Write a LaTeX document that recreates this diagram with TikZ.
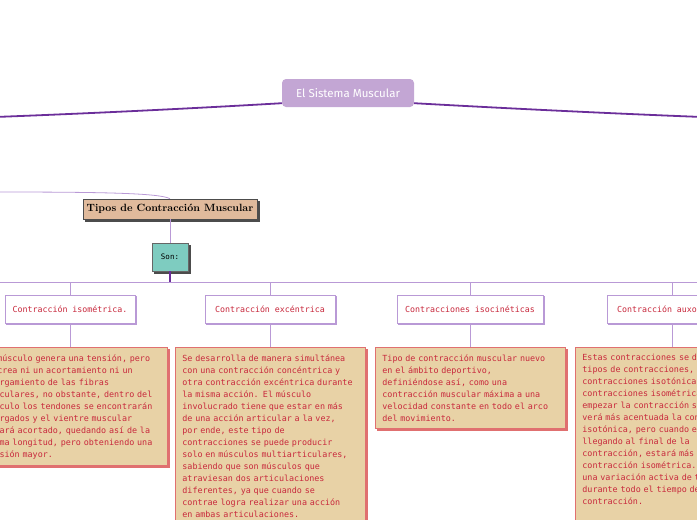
\documentclass[tikz,border=0pt]{standalone}
\usepackage{fontspec}
\setmainfont{Latin Modern Roman}
\newfontfamily\monof{DejaVu Sans Mono}
\newfontfamily\titf{Fira Sans}
\usetikzlibrary{shadows}
\definecolor{lilac}{HTML}{C3A6D4}
\definecolor{conn}{HTML}{6B2E9A}
\definecolor{linec}{HTML}{B999D6}
\definecolor{tan}{HTML}{E0BA9C}
\definecolor{teal}{HTML}{7ECCC0}
\definecolor{sand}{HTML}{E8D2A6}
\definecolor{redt}{HTML}{C8283C}
\definecolor{redb}{HTML}{E07070}
\tikzset{
  sub/.style={draw=linec,fill=white,line width=0.8pt,minimum height=28pt,font=\monof\fontsize{8.3}{10}\selectfont,text=redt,copy shadow={shadow xshift=1.5pt,shadow yshift=-1.5pt,draw=linec,fill=linec}},
  content/.style={draw=redb,fill=sand,line width=0.8pt,anchor=north west,align=left,inner sep=7pt,font=\monof\fontsize{8.4}{12}\selectfont,text=redt,copy shadow={shadow xshift=2pt,shadow yshift=-2pt,draw=redb,fill=redb}},
  link/.style={draw=linec,line width=0.8pt}
}
\begin{document}
\begin{tikzpicture}[x=1pt,y=-1pt]
\useasboundingbox (0,0) rectangle (697,520);
\node[fill=lilac,rounded corners=4pt,minimum width=132pt,minimum height=28pt,text=white,font=\titf\fontsize{11.5}{13}\selectfont] (title) at (348,93) {El Sistema Muscular};
\coordinate (L) at (-5,117);
\coordinate (R) at (702,117);
\draw[conn,line width=1.8pt] (title.south west)+(0,-4) .. controls (200,108) and (100,113) .. (L);
\draw[conn,line width=1.8pt] (title.south east)+(0,-4) .. controls (500,108) and (600,113) .. (R);
\node[fill=tan,draw=black!70,line width=0.6pt,minimum width=174pt,minimum height=20pt,font=\bfseries\fontsize{10.5}{12}\selectfont,copy shadow={shadow xshift=2pt,shadow yshift=-2pt,fill=black!70,draw=black!70}] (tipos) at (170,209) {Tipos de Contracción Muscular};
\coordinate (TL) at (-5,192);
\draw[link] (tipos.north) .. controls (160,193) and (100,192) .. (TL);
\node[fill=teal,draw=black!60,minimum width=36pt,minimum height=28pt,font=\monof\fontsize{7.5}{9}\selectfont,copy shadow={shadow xshift=2pt,shadow yshift=-2pt,fill=black!70,draw=black!70}] (son) at (170,257) {Son:};
\draw[link] (tipos.south) -- (son.north);
\coordinate (bus) at (170,282);
\coordinate (busL) at (-5,282);
\coordinate (busR) at (702,282);
\draw[conn,line width=1.2pt] (son.south) -- (bus);
\draw[link] (busL) -- (busR);
\node[sub,minimum width=130pt] (s1) at (70,309) {Contracción isométrica.};
\node[sub,minimum width=130pt] (s2) at (270,309) {Contracción excéntrica};
\node[sub,minimum width=146pt] (s3) at (470,309) {Contracciones isocinéticas};
\node[sub,minimum width=130pt] (s4) at (672,309) {Contracción auxotónica};
\foreach \s/\x in {s1/70,s2/270,s3/470,s4/672}{\draw[link] (\x,282) -- (\s.north);}
\node[content,text width=176pt] (c1) at (-23,347) {El músculo genera una tensión, pero\\no crea ni un acortamiento ni un\\alargamiento de las fibras\\musculares, no obstante, dentro del\\músculo los tendones se encontrarán\\alargados y el vientre muscular\\estará acortado, quedando así de la\\misma longitud, pero obteniendo una\\tensión mayor.};
\node[content,text width=176pt] (c2) at (175,347) {Se desarrolla de manera simultánea\\con una contracción concéntrica y\\otra contracción excéntrica durante\\la misma acción. El músculo\\involucrado tiene que estar en más\\de una acción articular a la vez,\\por ende, este tipo de\\contracciones se puede producir\\solo en músculos multiarticulares,\\sabiendo que son músculos que\\atraviesan dos articulaciones\\diferentes, ya que cuando se\\contrae logra realizar una acción\\en ambas articulaciones.};
\node[content,text width=176pt] (c3) at (375,347) {Tipo de contracción muscular nuevo\\en el ámbito deportivo,\\definiéndose así, como una\\contracción muscular máxima a una\\velocidad constante en todo el arco\\del movimiento.};
\node[content,text width=190pt] (c4) at (575,347) {Estas contracciones se dan en ambos\\tipos de contracciones, tanto en\\contracciones isotónicas como en\\contracciones isométricas. Al\\empezar la contracción se\\verá más acentuada la contracción\\isotónica, pero cuando esté\\llegando al final de la\\contracción, estará más la\\contracción isométrica. Tiene\\una variación activa de tensión\\durante todo el tiempo de la\\contracción.\\\strut};
\foreach \s/\c in {s1/c1,s2/c2,s3/c3,s4/c4}{\draw[link] (\s.south) -- (\s.south|-\c.north);}
\end{tikzpicture}
\end{document}
